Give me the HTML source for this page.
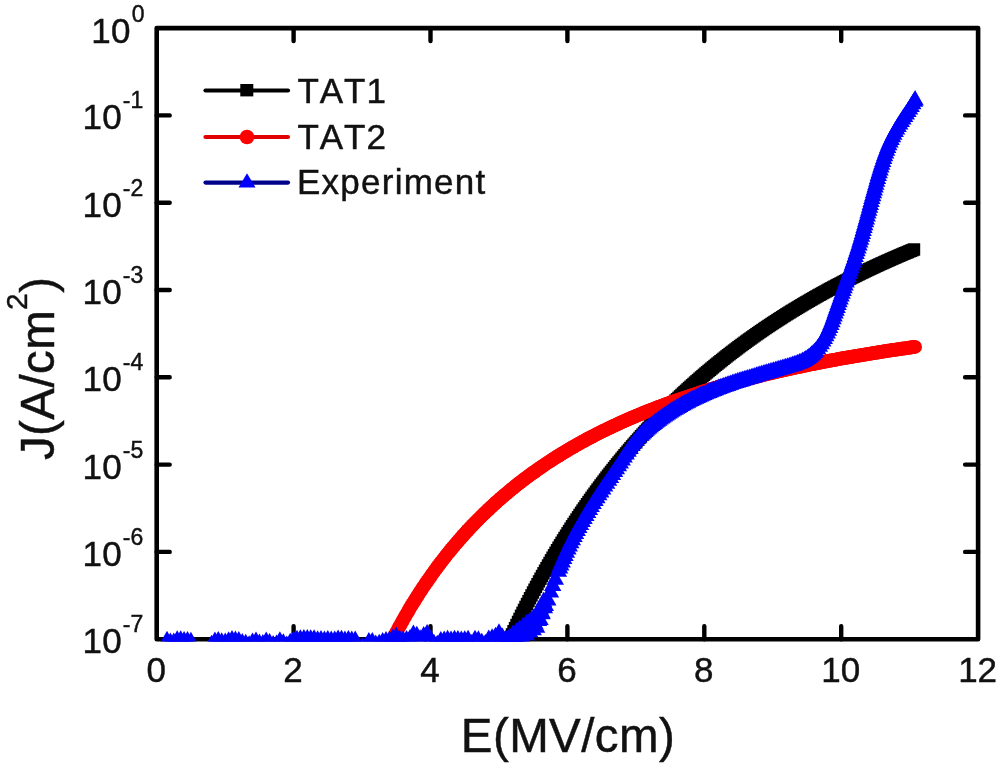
<!DOCTYPE html>
<html><head><meta charset="utf-8"><title>J-E plot</title>
<style>html,body{margin:0;padding:0;background:#fff}svg{display:block;filter:blur(0.6px)}</style></head>
<body>
<svg width="1000" height="766" viewBox="0 0 1000 766">
<rect width="1000" height="766" fill="#fff"/>
<defs>
<clipPath id="c"><rect x="154.3" y="25.7" width="826.2" height="615.9"/></clipPath>
<marker id="ms" markerUnits="userSpaceOnUse" markerWidth="14" markerHeight="14" refX="7" refY="7" overflow="visible"><rect x="0.8" y="0.8" width="12.4" height="12.4" fill="#000"/></marker>
<marker id="mc" markerUnits="userSpaceOnUse" markerWidth="16" markerHeight="16" refX="8" refY="8" overflow="visible"><circle cx="8" cy="8" r="7.0" fill="#f00"/></marker>
<marker id="mt" markerUnits="userSpaceOnUse" markerWidth="20" markerHeight="20" refX="10" refY="10" overflow="visible"><path d="M10.0,0.7 L18.7,16.0 L1.3,16.0z" fill="#00f"/></marker>
</defs>
<rect x="156.7" y="28.1" width="821.4" height="611.1" fill="none" stroke="#000" stroke-width="4.6" stroke-linejoin="round"/>
<path d="M293.6,639.2v-13.0M293.6,28.1v13.0M430.5,639.2v-13.0M430.5,28.1v13.0M567.4,639.2v-13.0M567.4,28.1v13.0M704.3,639.2v-13.0M704.3,28.1v13.0M841.2,639.2v-13.0M841.2,28.1v13.0M156.7,115.4h13.0M978.1,115.4h-13.0M156.7,202.7h13.0M978.1,202.7h-13.0M156.7,290.0h13.0M978.1,290.0h-13.0M156.7,377.3h13.0M978.1,377.3h-13.0M156.7,464.6h13.0M978.1,464.6h-13.0M156.7,551.9h13.0M978.1,551.9h-13.0" stroke="#000" stroke-width="4.4" stroke-linecap="round" fill="none"/>
<g clip-path="url(#c)" fill="none" stroke="none">
<path d="M509,640.8L510.5,637.6L512,634.4L513.5,631.2L515,628.1L516.5,625L518,621.9L519.5,618.9L521,615.8L522.5,612.8L524,609.9L525.5,606.9L527,604L528.5,601.1L530,598.2L531.5,595.4L533,592.5L534.5,589.7L536,586.9L537.5,584.2L539,581.4L540.5,578.7L542,576L543.5,573.3L545,570.7L546.5,568.1L548,565.5L549.5,562.9L551,560.3L552.5,557.7L554,555.2L555.5,552.7L557,550.2L558.5,547.7L560,545.3L561.5,542.8L563,540.4L564.5,538L566,535.7L567.5,533.3L569,531L570.5,528.6L572,526.3L573.5,524L575,521.8L576.5,519.5L578,517.3L579.5,515L581,512.8L582.5,510.6L584,508.5L585.5,506.3L587,504.2L588.5,502L590,499.9L591.5,497.8L593,495.7L594.5,493.7L596,491.6L597.5,489.6L599,487.6L600.5,485.5L602,483.6L603.5,481.6L605,479.6L606.5,477.6L608,475.7L609.5,473.8L611,471.9L612.5,470L614,468.1L615.5,466.2L617,464.3L618.5,462.5L620,460.7L621.5,458.8L623,457L624.5,455.2L626,453.4L627.5,451.7L629,449.9L630.5,448.2L632,446.4L633.5,444.7L635,443L636.5,441.3L638,439.6L639.5,437.9L641,436.2L642.5,434.6L644,432.9L645.5,431.3L647,429.6L648.5,428L650,426.4L651.5,424.8L653,423.2L654.5,421.7L656,420.1L657.5,418.5L659,417L660.5,415.5L662,413.9L663.5,412.4L665,410.9L666.5,409.4L668,407.9L669.5,406.4L671,405L672.5,403.5L674,402.1L675.5,400.6L677,399.2L678.5,397.8L680,396.3L681.5,394.9L683,393.5L684.5,392.1L686,390.8L687.5,389.4L689,388L690.5,386.7L692,385.3L693.5,384L695,382.6L696.5,381.3L698,380L699.5,378.7L701,377.4L702.5,376.1L704,374.8L705.5,373.5L707,372.3L708.5,371L710,369.8L711.5,368.5L713,367.3L714.5,366L716,364.8L717.5,363.6L719,362.4L720.5,361.2L722,360L723.5,358.8L725,357.6L726.5,356.4L728,355.2L729.5,354.1L731,352.9L732.5,351.8L734,350.6L735.5,349.5L737,348.4L738.5,347.2L740,346.1L741.5,345L743,343.9L744.5,342.8L746,341.7L747.5,340.6L749,339.5L750.5,338.5L752,337.4L753.5,336.3L755,335.3L756.5,334.2L758,333.2L759.5,332.1L761,331.1L762.5,330.1L764,329L765.5,328L767,327L768.5,326L770,325L771.5,324L773,323L774.5,322L776,321.1L777.5,320.1L779,319.1L780.5,318.2L782,317.2L783.5,316.2L785,315.3L786.5,314.3L788,313.4L789.5,312.5L791,311.5L792.5,310.6L794,309.7L795.5,308.8L797,307.9L798.5,307L800,306.1L801.5,305.2L803,304.3L804.5,303.4L806,302.5L807.5,301.7L809,300.8L810.5,299.9L812,299.1L813.5,298.2L815,297.3L816.5,296.5L818,295.6L819.5,294.8L821,294L822.5,293.1L824,292.3L825.5,291.5L827,290.7L828.5,289.8L830,289L831.5,288.2L833,287.4L834.5,286.6L836,285.8L837.5,285L839,284.3L840.5,283.5L842,282.7L843.5,281.9L845,281.1L846.5,280.4L848,279.6L849.5,278.9L851,278.1L852.5,277.3L854,276.6L855.5,275.9L857,275.1L858.5,274.4L860,273.6L861.5,272.9L863,272.2L864.5,271.5L866,270.7L867.5,270L869,269.3L870.5,268.6L872,267.9L873.5,267.2L875,266.5L876.5,265.8L878,265.1L879.5,264.4L881,263.7L882.5,263.1L884,262.4L885.5,261.7L887,261L888.5,260.4L890,259.7L891.5,259L893,258.4L894.5,257.7L896,257.1L897.5,256.4L899,255.8L900.5,255.1L902,254.5L903.5,253.8L905,253.2L906.5,252.6L908,252L909.5,251.3L911,250.7L912.5,250.1L914,249.5" marker-start="url(#ms)" marker-mid="url(#ms)" marker-end="url(#ms)"/>
<path d="M391.3,642.1L392.8,639.2L394.3,636.3L395.8,633.4L397.3,630.6L398.8,627.8L400.3,625.1L401.8,622.4L403.3,619.7L404.8,617.1L406.3,614.4L407.8,611.9L409.3,609.3L410.8,606.8L412.3,604.3L413.8,601.9L415.3,599.5L416.8,597.1L418.3,594.7L419.8,592.4L421.3,590.1L422.8,587.8L424.3,585.6L425.8,583.4L427.3,581.2L428.8,579L430.3,576.9L431.8,574.7L433.3,572.6L434.8,570.6L436.3,568.5L437.8,566.5L439.3,564.5L440.8,562.5L442.3,560.6L443.8,558.6L445.3,556.7L446.8,554.8L448.3,552.9L449.8,551.1L451.3,549.3L452.8,547.4L454.3,545.7L455.8,543.9L457.3,542.1L458.8,540.4L460.3,538.7L461.8,537L463.3,535.3L464.8,533.6L466.3,532L467.8,530.3L469.3,528.7L470.8,527.1L472.3,525.5L473.8,524L475.3,522.4L476.8,520.9L478.3,519.4L479.8,517.9L481.3,516.4L482.8,514.9L484.3,513.5L485.8,512L487.3,510.6L488.8,509.2L490.3,507.8L491.8,506.4L493.3,505L494.8,503.6L496.3,502.3L497.8,500.9L499.3,499.6L500.8,498.3L502.3,497L503.8,495.7L505.3,494.4L506.8,493.2L508.3,491.9L509.8,490.7L511.3,489.4L512.8,488.2L514.3,487L515.8,485.8L517.3,484.6L518.8,483.4L520.3,482.3L521.8,481.1L523.3,480L524.8,478.8L526.3,477.7L527.8,476.6L529.3,475.5L530.8,474.4L532.3,473.3L533.8,472.2L535.3,471.2L536.8,470.1L538.3,469.1L539.8,468L541.3,467L542.8,466L544.3,464.9L545.8,463.9L547.3,462.9L548.8,461.9L550.3,461L551.8,460L553.3,459L554.8,458.1L556.3,457.1L557.8,456.2L559.3,455.2L560.8,454.3L562.3,453.4L563.8,452.5L565.3,451.6L566.8,450.7L568.3,449.8L569.8,448.9L571.3,448L572.8,447.2L574.3,446.3L575.8,445.4L577.3,444.6L578.8,443.8L580.3,442.9L581.8,442.1L583.3,441.3L584.8,440.5L586.3,439.6L587.8,438.8L589.3,438L590.8,437.3L592.3,436.5L593.8,435.7L595.3,434.9L596.8,434.1L598.3,433.4L599.8,432.6L601.3,431.9L602.8,431.1L604.3,430.4L605.8,429.7L607.3,428.9L608.8,428.2L610.3,427.5L611.8,426.8L613.3,426.1L614.8,425.4L616.3,424.7L617.8,424L619.3,423.3L620.8,422.6L622.3,421.9L623.8,421.3L625.3,420.6L626.8,419.9L628.3,419.3L629.8,418.6L631.3,418L632.8,417.3L634.3,416.7L635.8,416.1L637.3,415.4L638.8,414.8L640.3,414.2L641.8,413.6L643.3,413L644.8,412.3L646.3,411.7L647.8,411.1L649.3,410.5L650.8,410L652.3,409.4L653.8,408.8L655.3,408.2L656.8,407.6L658.3,407.1L659.8,406.5L661.3,405.9L662.8,405.4L664.3,404.8L665.8,404.2L667.3,403.7L668.8,403.2L670.3,402.6L671.8,402.1L673.3,401.5L674.8,401L676.3,400.5L677.8,400L679.3,399.4L680.8,398.9L682.3,398.4L683.8,397.9L685.3,397.4L686.8,396.9L688.3,396.4L689.8,395.9L691.3,395.4L692.8,394.9L694.3,394.4L695.8,393.9L697.3,393.4L698.8,393L700.3,392.5L701.8,392L703.3,391.5L704.8,391.1L706.3,390.6L707.8,390.2L709.3,389.7L710.8,389.2L712.3,388.8L713.8,388.3L715.3,387.9L716.8,387.5L718.3,387L719.8,386.6L721.3,386.1L722.8,385.7L724.3,385.3L725.8,384.8L727.3,384.4L728.8,384L730.3,383.6L731.8,383.2L733.3,382.8L734.8,382.3L736.3,381.9L737.8,381.5L739.3,381.1L740.8,380.7L742.3,380.3L743.8,379.9L745.3,379.5L746.8,379.1L748.3,378.7L749.8,378.4L751.3,378L752.8,377.6L754.3,377.2L755.8,376.8L757.3,376.5L758.8,376.1L760.3,375.7L761.8,375.3L763.3,375L764.8,374.6L766.3,374.3L767.8,373.9L769.3,373.5L770.8,373.2L772.3,372.8L773.8,372.5L775.3,372.1L776.8,371.8L778.3,371.4L779.8,371.1L781.3,370.7L782.8,370.4L784.3,370.1L785.8,369.7L787.3,369.4L788.8,369.1L790.3,368.7L791.8,368.4L793.3,368.1L794.8,367.8L796.3,367.4L797.8,367.1L799.3,366.8L800.8,366.5L802.3,366.2L803.8,365.8L805.3,365.5L806.8,365.2L808.3,364.9L809.8,364.6L811.3,364.3L812.8,364L814.3,363.7L815.8,363.4L817.3,363.1L818.8,362.8L820.3,362.5L821.8,362.2L823.3,361.9L824.8,361.6L826.3,361.4L827.8,361.1L829.3,360.8L830.8,360.5L832.3,360.2L833.8,359.9L835.3,359.7L836.8,359.4L838.3,359.1L839.8,358.8L841.3,358.6L842.8,358.3L844.3,358L845.8,357.8L847.3,357.5L848.8,357.2L850.3,357L851.8,356.7L853.3,356.4L854.8,356.2L856.3,355.9L857.8,355.7L859.3,355.4L860.8,355.2L862.3,354.9L863.8,354.7L865.3,354.4L866.8,354.2L868.3,353.9L869.8,353.7L871.3,353.4L872.8,353.2L874.3,352.9L875.8,352.7L877.3,352.5L878.8,352.2L880.3,352L881.8,351.7L883.3,351.5L884.8,351.3L886.3,351.1L887.8,350.8L889.3,350.6L890.8,350.4L892.3,350.1L893.8,349.9L895.3,349.7L896.8,349.5L898.3,349.2L899.8,349L901.3,348.8L902.8,348.6L904.3,348.4L905.8,348.2L907.3,347.9L908.8,347.7L910.3,347.5L911.8,347.3L913.3,347.1L915,346.9" marker-start="url(#mc)" marker-mid="url(#mc)" marker-end="url(#mc)"/>
<path d="M167,640.1L170.4,641.7L173.8,641.9L177.2,639.6L180.7,639.6L184.1,640.2L187.5,640.2L190.9,641.1L211.5,644.1L214.9,640.8L218.3,640.2L221.7,641.6L225.2,641.8L228.6,640.5L232,639.4L235.4,639.7L238.8,640.4L242.3,642.2L245.7,643L249.1,644.6L252.5,641.8L256,640.7L259.4,642.9L262.8,643.4L266.2,640.8L269.6,642.3L273.1,644.4L276.5,643.8L279.9,640.6L283.3,642.6L286.8,644.9L290.2,642.1L293.6,639.7L297,639.1L300.4,638.6L303.9,638.3L307.3,638.3L310.7,638.6L314.1,638.5L317.6,639.5L321,639.2L324.4,639.7L327.8,639.2L331.2,639.8L334.7,639.7L338.1,638.7L341.5,639L344.9,639.8L348.4,639.3L351.8,639.9L355.2,639.7L358.6,645.8L362.1,646.5L365.5,646.1L368.9,641.3L372.3,641.3L375.7,643.9L379.2,643L382.6,641.4L386,640.3L389.4,640.1L392.9,637.9L396.3,636L399.7,639.1L403.1,639.6L406.5,639.2L410,638.2L413.4,633.9L416.8,635.1L420.2,638.6L423.7,635.2L427.1,633.3L430.5,638.5L433.9,643L437.3,644.1L440.8,640.2L444.2,639.7L447.6,639.1L451,639.8L454.5,639L457.9,639.2L461.3,639.7L464.7,639.5L468.1,639L471.6,643.3L475,639L478.4,639.6L481.8,642L485.3,643.2L488.7,638.9L492.1,637.6L495.5,636.1L499,632.5L502.4,636.7L505.8,639.4L509.2,639.1L512.6,639.2L516.1,639.9L519.5,643.1L522.9,638.3L526.3,634.2L529.7,631.6L533.2,629.2L536.6,626.8L540,619.1L542,612.6L544.4,607.3L547.8,599.5L550.5,591.6L552.7,584.9L555.3,578.8L558.4,570.8L559.6,567.6L560.8,564.5L562.2,561.4L563.7,558.1L565,554.9L566.4,551.7L567.9,548.6L569.3,545.4L570.8,542.3L572.4,539.2L574,536.1L575.5,533L577.2,530L578.8,526.9L580.5,523.9L582.2,520.9L584,517.9L585.8,514.9L587.6,511.9L589.4,509L591.2,506L593.1,503.1L595,500.1L596.9,497.2L598.8,494.3L600.7,491.4L602.7,488.5L604.6,485.6L606.6,482.7L608.6,479.8L610.5,476.9L612.5,474L614.5,471.1L616.4,468.2L618.4,465.3L620.3,462.4L622.2,459.4L624.1,456.5L626.1,453.6L628,450.7L630,447.9L632,445.1L634.1,442.4L636.3,439.7L638.5,437.2L640.9,434.7L642.2,433.4L643.5,432.2L644.8,431L646.1,429.8L647.4,428.6L648.8,427.4L650.2,426.3L651.6,425.1L653,424L654.4,422.9L655.8,421.8L657.2,420.7L658.7,419.7L660.1,418.6L661.6,417.5L663,416.5L664.5,415.5L666,414.5L667.5,413.5L669,412.5L670.5,411.5L672,410.6L673.5,409.6L675.1,408.7L676.6,407.8L678.2,406.9L679.7,406L681.3,405.1L682.9,404.2L684.4,403.3L686,402.5L687.6,401.7L689.2,400.8L690.8,400L692.4,399.2L694,398.5L695.7,397.7L697.3,396.9L698.9,396.2L700.6,395.4L702.2,394.7L703.8,394L705.5,393.3L707.2,392.6L708.8,391.9L710.5,391.2L712.1,390.5L713.8,389.9L715.5,389.2L717.2,388.6L718.9,387.9L720.5,387.3L722.2,386.7L723.9,386.1L725.6,385.5L727.3,384.9L729,384.3L730.7,383.7L732.4,383.1L734.1,382.6L735.8,382L737.5,381.4L739.3,380.9L741,380.4L742.7,379.8L744.4,379.3L746.1,378.7L747.8,378.2L749.6,377.7L751.3,377.2L753,376.7L754.7,376.2L756.5,375.6L758.2,375.1L759.9,374.6L761.6,374.1L763.4,373.6L765.1,373.1L766.8,372.6L768.6,372.1L770.3,371.6L772,371.1L773.7,370.6L775.5,370.1L777.2,369.6L778.9,369.1L780.7,368.6L782.4,368.1L784.1,367.6L785.8,367L787.6,366.5L789.3,366L791,365.5L792.7,364.9L794.4,364.4L796.1,363.8L797.8,363.1L799.5,362.4L801.2,361.7L802.8,360.9L804.4,360L805.9,359.1L807.5,358L808.9,357L810.4,355.8L811.7,354.6L813.1,353.4L814.4,352L815.6,350.7L817.6,348.3L819.4,345.8L821.2,343.3L822.8,340.6L824.3,338L825.8,335.2L827.2,332.5L828.4,329.7L829.7,326.9L830.9,324L832,321.2L833.1,318.3L834.1,315.5L835.1,312.6L836.1,309.8L837.1,306.9L838.1,304.1L839.1,301.3L840.1,298.4L841.1,295.6L842.1,292.8L843.1,290L844.1,287.2L845.1,284.4L846.1,281.6L847.2,278.7L848.2,275.9L849.2,273.1L850.3,270.3L851.3,267.4L852.3,264.6L853.3,261.7L854.3,258.9L855.2,256L856.2,253.1L857.1,250.3L858,247.4L859,244.5L859.8,241.6L860.7,238.7L861.6,235.8L862.4,232.9L863.2,230L864,227.1L864.8,224.2L865.6,221.3L866.4,218.4L867.2,215.5L868,212.6L868.8,209.7L869.6,206.8L870.3,203.9L871.1,201L871.9,198.1L872.7,195.2L873.5,192.3L874.3,189.4L875.1,186.5L875.9,183.7L876.7,180.8L877.5,177.9L878.3,175.1L879.2,172.2L880,169.4L880.9,166.5L881.8,163.7L882.7,160.9L883.7,158.1L884.6,155.3L885.6,152.5L886.7,149.8L887.7,147L888.8,144.3L890,141.6L891.2,138.9L892.5,136.3L893.8,133.7L895.2,131.1L896.6,128.5L898.1,126L899.7,123.5L901.3,121L902.9,118.5L904.6,116L906.3,113.5L907.9,111L909.6,108.5L911.2,105.9L912.8,103.3L914.4,100.7L915.1,99.4" marker-start="url(#mt)" marker-mid="url(#mt)" marker-end="url(#mt)"/>
<path d="M506,639L507.7,639.5L509.4,637.1L511.1,638.6L512.8,634.1L514.5,637.1L516.3,631.5L518,635.7L519.7,628.8L521.4,634.4L523.1,626.1L524.8,632.1L526.5,623.4L528.2,628.7L529.9,620.7L531.6,626.1L533.4,617.7L535.1,623.4L536.8,613.5L538.5,620.1L540.2,608.2L541.9,613.3L543.6,601.1L545.3,604.9" marker-start="url(#mt)" marker-mid="url(#mt)" marker-end="url(#mt)"/>
</g>
<path d="M205.5,90.5H288" stroke="#000" stroke-width="4.2" stroke-linecap="round"/>
<path d="M205.5,137.0H288" stroke="#e00000" stroke-width="4.2" stroke-linecap="round"/>
<path d="M205.5,182.6H288" stroke="#00008b" stroke-width="4.2" stroke-linecap="round"/>
<rect x="240.3" y="84" width="13" height="12.4" fill="#000"/>
<circle cx="247" cy="137" r="7.3" fill="#f00"/>
<path d="M247,173.2l8.5,14.4h-17z" fill="#00f"/>
<g style="font-family:'Liberation Sans',Arial,sans-serif;fill:#111;stroke:#111;stroke-width:0.45px;font-size:35px;font-kerning:none;letter-spacing:1.25px">
<text x="297.6" y="103.4" style="letter-spacing:0.9px">TAT1</text>
<text x="297.6" y="148.6" style="letter-spacing:0.9px">TAT2</text>
<text x="297" y="194.3">Experiment</text>
<text x="156.2" y="681.5" text-anchor="middle" style="letter-spacing:0">0</text>
<text x="293.1" y="681.5" text-anchor="middle" style="letter-spacing:0">2</text>
<text x="430.0" y="681.5" text-anchor="middle" style="letter-spacing:0">4</text>
<text x="566.9" y="681.5" text-anchor="middle" style="letter-spacing:0">6</text>
<text x="703.8" y="681.5" text-anchor="middle" style="letter-spacing:0">8</text>
<text x="840.7" y="681.5" text-anchor="middle" style="letter-spacing:0">10</text>
<text x="977.6" y="681.5" text-anchor="middle" style="letter-spacing:0">12</text>
<text x="144.5" y="43.0" text-anchor="end" style="letter-spacing:0.3px">10<tspan dx="0.8" dy="-21" style="font-size:23px;letter-spacing:0">0</tspan></text>
<text x="143.3" y="129.4" text-anchor="end" style="letter-spacing:0.3px">10<tspan dx="0.8" dy="-21" style="font-size:23px;letter-spacing:0">-1</tspan></text>
<text x="143.3" y="216.7" text-anchor="end" style="letter-spacing:0.3px">10<tspan dx="0.8" dy="-21" style="font-size:23px;letter-spacing:0">-2</tspan></text>
<text x="143.3" y="304.0" text-anchor="end" style="letter-spacing:0.3px">10<tspan dx="0.8" dy="-21" style="font-size:23px;letter-spacing:0">-3</tspan></text>
<text x="143.3" y="391.3" text-anchor="end" style="letter-spacing:0.3px">10<tspan dx="0.8" dy="-21" style="font-size:23px;letter-spacing:0">-4</tspan></text>
<text x="143.3" y="478.6" text-anchor="end" style="letter-spacing:0.3px">10<tspan dx="0.8" dy="-21" style="font-size:23px;letter-spacing:0">-5</tspan></text>
<text x="143.3" y="565.9" text-anchor="end" style="letter-spacing:0.3px">10<tspan dx="0.8" dy="-21" style="font-size:23px;letter-spacing:0">-6</tspan></text>
<text x="143.3" y="653.2" text-anchor="end" style="letter-spacing:0.3px">10<tspan dx="0.8" dy="-21" style="font-size:23px;letter-spacing:0">-7</tspan></text>
</g>
<g style="font-family:'Liberation Sans',Arial,sans-serif;fill:#111;stroke:#111;stroke-width:0.45px;font-size:47.5px;font-kerning:none;letter-spacing:0.4px">
<text x="568" y="751.5" text-anchor="middle">E(MV/cm)</text>
<text transform="translate(53.9,368.3) rotate(-90)" text-anchor="middle">J(A/cm<tspan dy="-27" style="font-size:30px">2</tspan><tspan dy="27">)</tspan></text>
</g>
</svg>
</body></html>
